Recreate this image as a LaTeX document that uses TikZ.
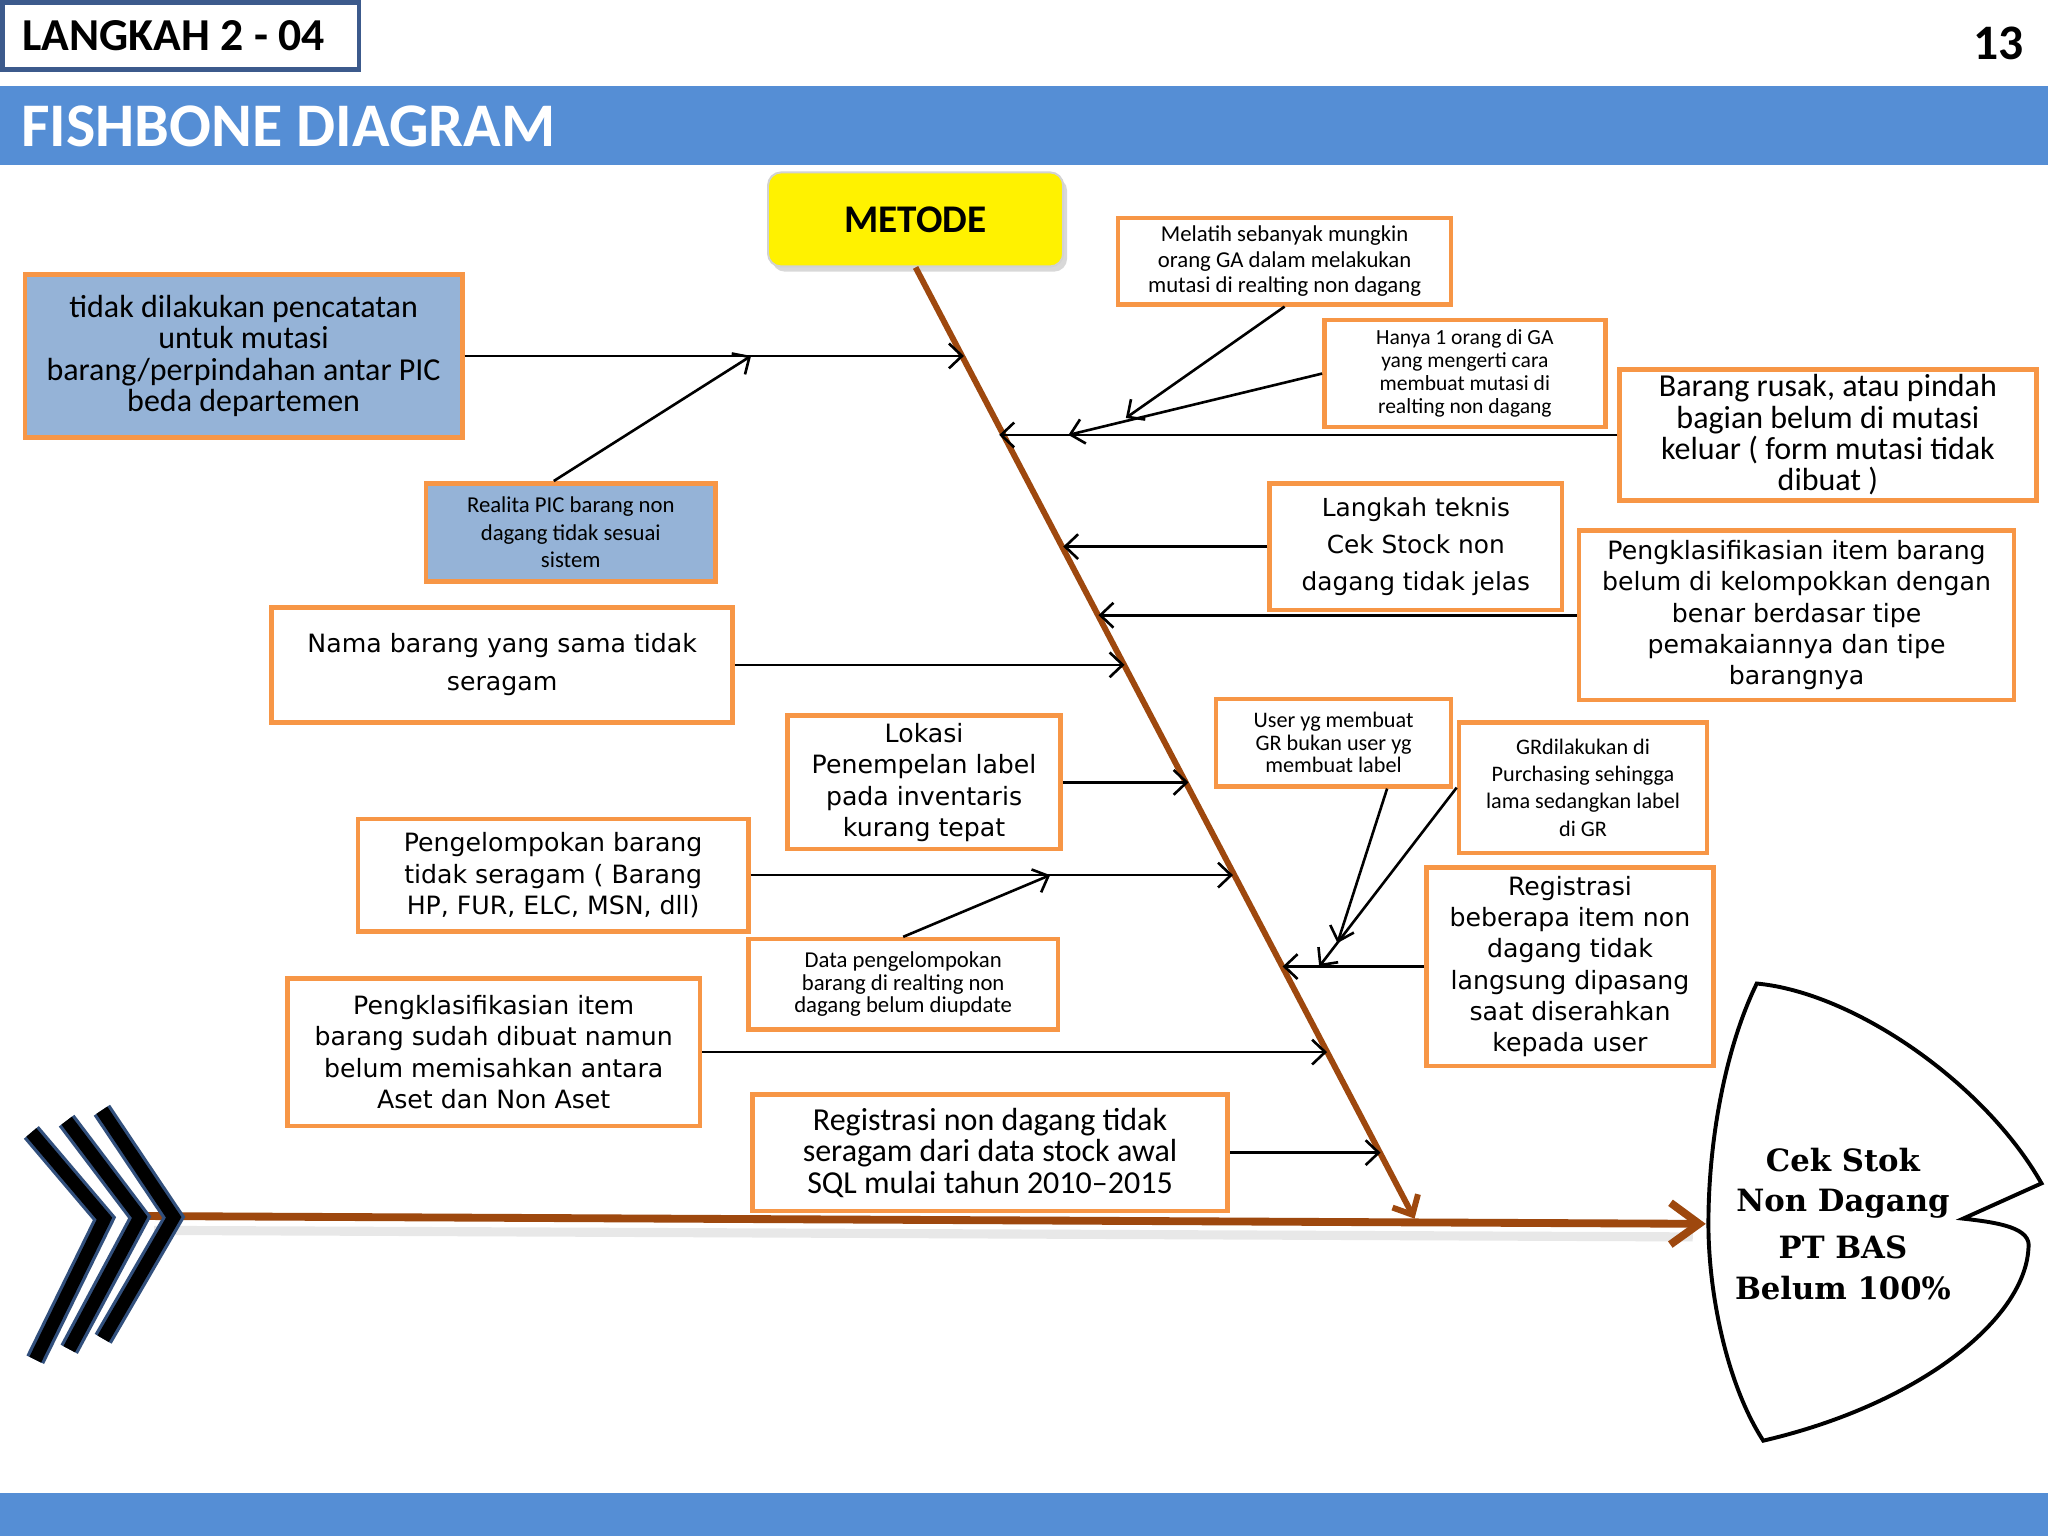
\documentclass[tikz,border=0pt]{standalone}
\usepackage{fontspec}
\setmainfont{Carlito}
\newfontfamily\wfont{DejaVu Sans}
\newfontfamily\hfont{DejaVu Serif}
\usetikzlibrary{arrows.meta,shadows,calc}
\definecolor{borange}{RGB}{247,150,70}
\definecolor{bfill}{RGB}{149,179,215}
\definecolor{barblue}{RGB}{85,142,213}
\definecolor{spinecol}{RGB}{158,72,14}
\definecolor{chevout}{RGB}{50,80,125}
\definecolor{langkahcol}{RGB}{60,90,140}
\begin{document}
\begin{tikzpicture}[x=1pt,y=-1pt,
  cause/.style={draw=borange, line width=3.5pt, fill=white, align=center, inner sep=0pt, text=black},
  bluecause/.style={cause, fill=bfill},
  bigc/.style={font=\fontsize{24.5}{24}\selectfont},
  smallc/.style={font=\fontsize{17.4}{19.5}\selectfont},
  widec/.style={font=\wfont\fontsize{19.3}{24}\selectfont},
  arr/.style={black, line width=2pt, -{Straight Barb[length=10pt,width=19pt]}},
  bonearr/.style={spinecol, line width=4.5pt, -{Straight Barb[length=12pt,width=22pt]}},
  chevo/.style={chevout, line width=15pt, line join=miter, line cap=butt},
  chevi/.style={black, line width=10pt, line join=miter, line cap=butt},
]
\useasboundingbox (0,0) rectangle (1568,1176);
\fill[white] (0,0) rectangle (1568,1176);

% header
\node[draw=langkahcol, line width=3.5pt, minimum width=273pt, minimum height=51pt, inner sep=0pt] (langkah) at (138.5,27.5) {};
\node[anchor=west, inner sep=0pt, font=\bfseries\fontsize{35}{35}\selectfont] (langkahtxt) at (17,27.5) {LANGKAH 2 - 04};
\node[font=\bfseries\fontsize{38}{38}\selectfont, inner sep=0pt] (pagenum) at (1530,33) {13};
\fill[barblue] (0,66) rectangle (1568,126);
\node[anchor=west, text=white, font=\bfseries\fontsize{47.5}{47.5}\selectfont, inner sep=0pt] (title) at (16,97) {FISHBONE DIAGRAM};
\fill[barblue] (0,1143) rectangle (1568,1176);

% named points
\coordinate (tail) at (110,931);
\coordinate (headpt) at (1306,937);
\coordinate (spineend) at (1083,933);

% main spine with shadow
\draw[black!9, line width=7pt] (118,942) -- (1296,947);
\draw[spinecol, line width=6pt, -{Straight Barb[length=22pt,width=32pt]}] (tail) -- (headpt);

% chevrons
\foreach \a/\b/\c in {{(24,867)}/{(80,933)}/{(27,1041)},{(51,858)}/{(107,932)}/{(53,1033)},{(78,850)}/{(133,932)}/{(79,1025)}}{
  \draw[chevo] \a -- \b -- \c;
  \draw[chevi] \a -- \b -- \c;
}

% fish head
\draw[line width=3pt, fill=white] (1345,753) .. controls (1420,760) and (1520,830) .. (1563,906)
  -- (1503,933) .. controls (1530,936) and (1556,940) .. (1553,956)
  .. controls (1550,1010) and (1470,1075) .. (1350,1103)
  .. controls (1322,1060) and (1308,990) .. (1308,937)
  .. controls (1308,870) and (1322,800) .. (1345,753) -- cycle;
\node[align=center, inner sep=0pt, font=\hfont\bfseries\fontsize{23.5}{31}\selectfont] (effect) at (1411,937)
  {Cek Stok\\Non Dagang\\[5pt]PT BAS\\Belum 100\%};

% METODE
\node[fill=yellow, draw=gray!35, line width=1.5pt, rounded corners=10pt, minimum width=226pt, minimum height=72pt,
  inner sep=0pt, font=\bfseries\fontsize{30}{30}\selectfont,
  drop shadow={shadow xshift=3pt, shadow yshift=-4pt, opacity=0.3}] (metode) at (701,168) {METODE};

% diagonal bone
\draw[bonearr] (metode.south) -- (spineend);

% cause boxes
\node[bluecause, bigc, minimum width=335pt, minimum height=125pt] (A) at (186.5,272.5)
  {tidak dilakukan pencatatan\\untuk mutasi\\barang/perpindahan antar PIC\\beda departemen};
\node[bluecause, smallc, font=\fontsize{17.4}{21}\selectfont, minimum width=222pt, minimum height=75pt] (B) at (437,407.5)
  {Realita PIC barang non\\dagang tidak sesuai\\sistem};
\node[cause, widec, font=\wfont\fontsize{19.3}{29}\selectfont, minimum width=353pt, minimum height=88pt] (C) at (384.5,509)
  {Nama barang yang sama tidak\\seragam};
\node[cause, widec, minimum width=209pt, minimum height=102pt] (D) at (707.5,599)
  {Lokasi\\Penempelan label\\pada inventaris\\kurang tepat};
\node[cause, widec, minimum width=299pt, minimum height=86pt] (E) at (423.5,670)
  {Pengelompokan barang\\tidak seragam ( Barang\\HP, FUR, ELC, MSN, dll)};
\node[cause, font=\fontsize{17.4}{17}\selectfont, minimum width=237pt, minimum height=69pt] (F) at (691.5,753.5)
  {Data pengelompokan\\barang di realting non\\dagang belum diupdate};
\node[cause, widec, minimum width=316pt, minimum height=113pt] (G) at (378,805.5)
  {Pengklasifikasian item\\barang sudah dibuat namun\\belum memisahkan antara\\Aset dan Non Aset};
\node[cause, bigc, minimum width=364pt, minimum height=89pt] (H) at (758,882.5)
  {Registrasi non dagang tidak\\seragam dari data stock awal\\SQL mulai tahun 2010–2015};
\node[cause, smallc, minimum width=255pt, minimum height=66pt] (I) at (983.5,200)
  {Melatih sebanyak mungkin\\orang GA dalam melakukan\\mutasi di realting non dagang};
\node[cause, font=\fontsize{16.5}{17.5}\selectfont, minimum width=215pt, minimum height=82pt] (J) at (1121.5,286)
  {Hanya 1 orang di GA\\yang mengerti cara\\membuat mutasi di\\realting non dagang};
\node[cause, bigc, minimum width=319pt, minimum height=100pt] (K) at (1399.5,333)
  {Barang rusak, atau pindah\\bagian belum di mutasi\\keluar ( form mutasi tidak\\dibuat )};
\node[cause, font=\wfont\fontsize{19}{28.5}\selectfont, minimum width=224pt, minimum height=97pt] (L) at (1084,418.5)
  {Langkah teknis\\Cek Stock non\\dagang tidak jelas};
\node[cause, widec, minimum width=333pt, minimum height=130pt] (M) at (1375.5,471)
  {Pengklasifikasian item barang\\belum di kelompokkan dengan\\benar berdasar tipe\\pemakaiannya dan tipe\\barangnya};
\node[cause, font=\fontsize{17}{17}\selectfont, minimum width=180pt, minimum height=67pt] (N) at (1021,568.5)
  {User yg membuat\\GR bukan user yg\\membuat label};
\node[cause, font=\fontsize{17}{21}\selectfont, minimum width=190pt, minimum height=100pt] (O) at (1212,603)
  {GRdilakukan di\\Purchasing sehingga\\lama sedangkan label\\di GR};
\node[cause, widec, minimum width=220pt, minimum height=152pt] (P) at (1202,740)
  {Registrasi\\beberapa item non\\dagang tidak\\langsung dipasang\\saat diserahkan\\kepada user};

% arrow end points
\coordinate (tA) at (738,272.5);
\coordinate (jA) at (575,272.5);
\coordinate (tC) at (861,509);
\coordinate (tD) at (910,599);
\coordinate (tE) at (944,670);
\coordinate (jE) at (804,670);
\coordinate (tG) at (1016,805.5);
\coordinate (tH) at (1057,882.5);
\coordinate (tK) at (765,333);
\coordinate (jK) at (818,333);
\coordinate (jI) at (862,320);
\coordinate (tL) at (814,418.5);
\coordinate (tM) at (841,471);
\coordinate (tP) at (982,740);
\coordinate (jN) at (1024,722);
\coordinate (jO) at (1010,740);

% arrows
\draw[arr] (A.east) -- (tA);
\draw[arr] ($(B.north)+(-13,0)$) -- (jA);
\draw[arr] (C.east) -- (tC);
\draw[arr] (D.east) -- (tD);
\draw[arr] (E.east) -- (tE);
\draw[arr] (F.north) -- (jE);
\draw[arr] (G.east) -- (tG);
\draw[arr] (H.east) -- (tH);
\draw[arr] (K.west) -- (tK);
\draw[arr] (J.west) -- (jK);
\draw[arr] (I.south) -- (jI);
\draw[arr] (L.west) -- (tL);
\draw[arr] (M.west) -- (tM);
\draw[arr] (P.west) -- (tP);
\draw[arr] ($(N.south)+(41,0)$) -- (jN);
\draw[arr] (O.west) -- (jO);
\end{tikzpicture}
\end{document}
